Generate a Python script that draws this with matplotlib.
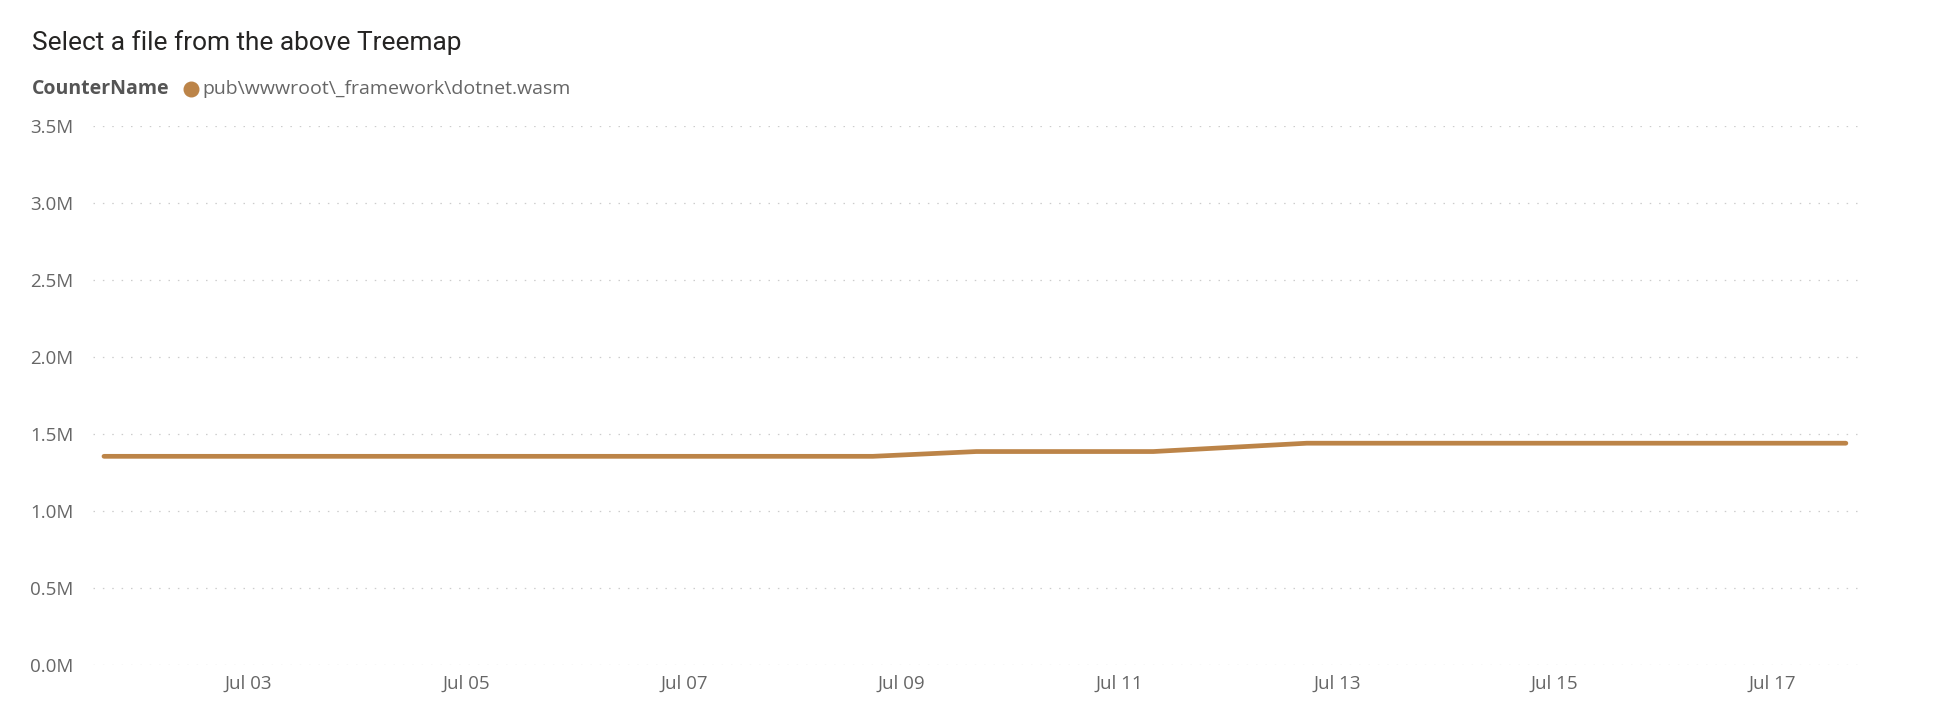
import matplotlib.pyplot as plt
import matplotlib.dates as mdates
import matplotlib.ticker as mticker
from matplotlib.lines import Line2D
import pandas as pd

# Data (file size of dotnet.wasm over time)
times = ["2023-07-01 16:10", "2023-07-08 17:40", "2023-07-09 16:30",
         "2023-07-11 07:30", "2023-07-12 17:20", "2023-07-17 16:10"]
sizes = [1355000, 1355000, 1386000, 1386000, 1440000, 1440000]
series_name = "pub\\wwwroot\\_framework\\dotnet.wasm"
tick_days = [3, 5, 7, 9, 11, 13, 15, 17]

line_color = "#BC8448"
text_gray = "#666666"
font = ["Open Sans", "DejaVu Sans"]

W, H = 1941, 718
x = pd.to_datetime(times)

fig = plt.figure(figsize=(W / 100, H / 100), dpi=100)
ax = fig.add_axes([93 / W, 52.7 / H, (1861 - 93) / W, (592.5 - 52.7) / H])

ax.plot(x, sizes, color=line_color, linewidth=3.4, solid_capstyle="round",
        solid_joinstyle="round")

ax.set_ylim(0, 3500000)
ax.set_yticks([i * 500000 for i in range(8)])
ax.yaxis.set_major_formatter(mticker.FuncFormatter(lambda v, p: f"{v / 1e6:.1f}M"))

ax.set_xlim(pd.Timestamp("2023-07-01 13:45"), pd.Timestamp("2023-07-17 19:30"))
ax.xaxis.set_major_locator(mdates.DayLocator(bymonthday=tick_days))
ax.xaxis.set_major_formatter(mdates.DateFormatter("%b %d"))

ax.grid(axis="y", color="#cccccc", linewidth=0.9, linestyle=(0, (1.2, 6.3)))
ax.set_axisbelow(True)
for s in ax.spines.values():
    s.set_visible(False)
ax.tick_params(axis="y", length=0, pad=14, labelcolor=text_gray, labelsize=13.5)
ax.tick_params(axis="x", length=0, pad=7, labelcolor=text_gray, labelsize=13.5)
for lab in ax.get_xticklabels() + ax.get_yticklabels():
    lab.set_family(font)

# Title and legend
fig.text(32 / W, 1 - 42.7 / H, "Select a file from the above Treemap",
         fontsize=18.9, color="#252423", family=["Roboto", "DejaVu Sans"],
         va="center", ha="left")
fig.text(32 / W, 1 - 89.3 / H, "CounterName", fontsize=14, fontweight="bold",
         color="#555555", family=font, va="center", ha="left")
fig.text(202 / W, 1 - 89.3 / H, series_name, fontsize=14, color=text_gray,
         family=font, va="center", ha="left")
fig.add_artist(Line2D([190.7 / W], [1 - 89.3 / H], transform=fig.transFigure,
                      marker="o", markersize=10.5, color=line_color,
                      linestyle="none"))

fig.savefig("out.png", dpi=100)
